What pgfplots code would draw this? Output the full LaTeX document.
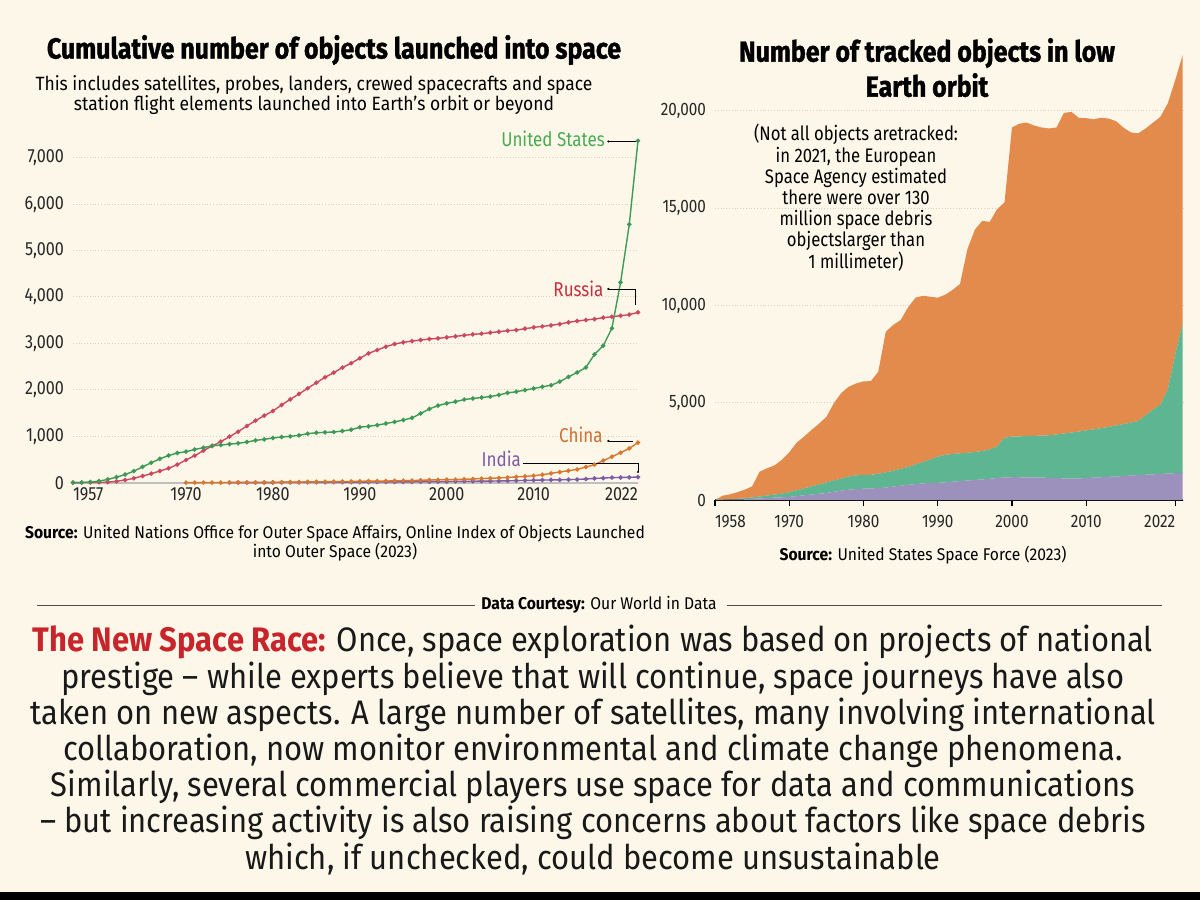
\documentclass[border=0pt]{standalone}
\usepackage{fontspec}
\setmainfont{Fira Sans}[FakeStretch=0.85]
\newfontfamily\titlefont{Fira Sans}[FakeStretch=0.86, BoldFeatures={FakeBold=1.2}]
\newfontfamily\condfont{Fira Sans}[FakeStretch=0.92]
\newfontfamily\parafont{Fira Sans}[FakeStretch=0.91]
\usepackage{pgfplots}
\pgfplotsset{compat=1.18}
\definecolor{bg}{HTML}{FCF7E9}
\definecolor{usgreen}{HTML}{3E9B57}
\definecolor{usdark}{HTML}{2D7A45}
\definecolor{uslab}{HTML}{4BAA55}
\definecolor{rured}{HTML}{CC4A60}
\definecolor{rudark}{HTML}{A83348}
\definecolor{rulab}{HTML}{C43040}
\definecolor{cnorange}{HTML}{D8782F}
\definecolor{cnlab}{HTML}{D06F30}
\definecolor{inpurple}{HTML}{7D5BA6}
\definecolor{debris}{HTML}{E28B4C}
\definecolor{payload}{HTML}{5DB592}
\definecolor{rocket}{HTML}{9C90BD}
\definecolor{gridc}{HTML}{D5D0C2}
\definecolor{racered}{HTML}{C8242B}
\definecolor{labwhite}{HTML}{FDF6E8}
\begin{document}
\begin{tikzpicture}
\fill[bg] (0,0) rectangle (600pt,-450pt);
\fill[black] (0,-446pt) rectangle (600pt,-450pt);

% ---------------- left chart ----------------
\begin{axis}[
  at={(36.5pt,-241.35pt)}, anchor=south west,
  scale only axis, width=282.5pt, height=174.1pt,
  xmin=1957, xmax=2022, ymin=0, ymax=7500,
  clip=false,
  axis line style={draw=none},
  tick style={draw=none},
  ytick={0,1000,...,7000},
  ymajorgrids, grid style={densely dotted, gridc, line width=0.5pt},
  xtick={1957,1970,1980,1990,2000,2010,2022},
  xticklabels={\makebox[0pt][l]{1957},1970,1980,1990,2000,2010,\makebox[0pt][r]{2022}},
  yticklabel style={/pgf/number format/1000 sep={,}, /pgf/number format/assume math mode=true, xshift=-1pt},
  tick label style={font=\fontsize{9.5}{10}\selectfont, text=black!85},
  xticklabel style={yshift=1pt},
]
\draw[black!25, line width=0.8pt] (axis cs:1957,0) -- (axis cs:2022,0);
\addplot[inpurple, line width=0.7pt, mark=*, mark size=0.75pt] coordinates {
(1975,1)(1976,1)(1977,1)(1978,1)(1979,2)(1980,3)(1981,6)(1982,7)(1983,9)(1984,9)(1985,9)(1986,9)(1987,10)(1988,12)(1989,12)(1990,13)(1991,14)(1992,15)(1993,16)(1994,17)(1995,18)(1996,19)(1997,21)(1998,22)(1999,24)(2000,25)(2001,27)(2002,29)(2003,32)(2004,33)(2005,35)(2006,37)(2007,40)(2008,45)(2009,49)(2010,53)(2011,57)(2012,60)(2013,63)(2014,66)(2015,71)(2016,80)(2017,92)(2018,100)(2019,110)(2020,113)(2021,116)(2022,122)};
\addplot[cnorange, line width=0.7pt, mark=*, mark size=0.75pt] coordinates {
(1970,1)(1971,2)(1972,2)(1973,2)(1974,2)(1975,5)(1976,8)(1977,8)(1978,9)(1979,9)(1980,9)(1981,12)(1982,13)(1983,14)(1984,17)(1985,19)(1986,21)(1987,23)(1988,27)(1989,27)(1990,32)(1991,33)(1992,35)(1993,36)(1994,41)(1995,43)(1996,46)(1997,52)(1998,58)(1999,62)(2000,66)(2001,68)(2002,74)(2003,80)(2004,90)(2005,95)(2006,103)(2007,113)(2008,125)(2009,135)(2010,151)(2011,172)(2012,201)(2013,230)(2014,258)(2015,287)(2016,337)(2017,388)(2018,474)(2019,560)(2020,646)(2021,740)(2022,862)};
\addplot[rured, line width=0.7pt, mark=*, mark size=0.75pt, mark options={fill=rudark, draw=none}] coordinates {
(1957,2)(1958,3)(1959,5)(1960,8)(1961,12)(1962,30)(1963,58)(1964,94)(1965,144)(1966,194)(1967,252)(1968,310)(1969,390)(1970,489)(1971,582)(1972,690)(1973,790)(1974,884)(1975,991)(1976,1099)(1977,1221)(1978,1336)(1979,1444)(1980,1545)(1981,1674)(1982,1796)(1983,1911)(1984,2033)(1985,2155)(1986,2270)(1987,2370)(1988,2480)(1989,2575)(1990,2680)(1991,2786)(1992,2858)(1993,2929)(1994,2987)(1995,3023)(1996,3051)(1997,3073)(1998,3094)(1999,3109)(2000,3130)(2001,3152)(2002,3174)(2003,3195)(2004,3209)(2005,3231)(2006,3253)(2007,3274)(2008,3288)(2009,3317)(2010,3346)(2011,3367)(2012,3389)(2013,3418)(2014,3454)(2015,3482)(2016,3504)(2017,3525)(2018,3554)(2019,3576)(2020,3597)(2021,3619)(2022,3669)};
\addplot[usgreen, line width=0.7pt, mark=*, mark size=0.75pt, mark options={fill=usdark, draw=none}] coordinates {
(1957,0)(1958,5)(1959,15)(1960,35)(1961,70)(1962,120)(1963,175)(1964,250)(1965,340)(1966,430)(1967,515)(1968,585)(1969,640)(1970,668)(1971,715)(1972,755)(1973,795)(1974,812)(1975,830)(1976,848)(1977,876)(1978,912)(1979,934)(1980,963)(1981,984)(1982,998)(1983,1020)(1984,1056)(1985,1077)(1986,1085)(1987,1092)(1988,1113)(1989,1142)(1990,1195)(1991,1215)(1992,1240)(1993,1275)(1994,1310)(1995,1350)(1996,1395)(1997,1490)(1998,1590)(1999,1660)(2000,1710)(2001,1745)(2002,1790)(2003,1815)(2004,1835)(2005,1855)(2006,1890)(2007,1935)(2008,1960)(2009,1995)(2010,2030)(2011,2065)(2012,2100)(2013,2175)(2014,2280)(2015,2375)(2016,2480)(2017,2765)(2018,2950)(2019,3325)(2020,4315)(2021,5565)(2022,7365)};
% labels
\node[anchor=east, text=uslab, font=\fontsize{10}{12}\selectfont, inner sep=1pt] at (axis cs:2018.45,7402) {United States};
\fill[black] (axis cs:2018.6,7350) circle (0.6pt);
\draw[black, line width=0.45pt] (axis cs:2018.6,7350) -- (axis cs:2021.8,7350);
\node[anchor=east, text=rulab, font=\fontsize{10}{12}\selectfont, inner sep=1pt] at (axis cs:2018.3,4172) {Russia};
\fill[black] (axis cs:2018.6,4172) circle (0.6pt);
\draw[black, line width=0.45pt] (axis cs:2018.6,4172) -- (axis cs:2021.7,4172) -- (axis cs:2021.7,3827);
\node[anchor=east, text=cnlab, font=\fontsize{10}{12}\selectfont, inner sep=1pt] at (axis cs:2018.2,1027) {China};
\fill[black] (axis cs:2018.6,898) circle (0.6pt);
\draw[black, line width=0.45pt] (axis cs:2018.6,898) -- (axis cs:2021.4,898);
\node[anchor=east, text=inpurple, font=\fontsize{10}{12}\selectfont, inner sep=1pt] at (axis cs:2008.8,510) {India};
\draw[black, line width=0.45pt] (axis cs:2008.8,424) -- (axis cs:2022,424) -- (axis cs:2022,231);
\fill[black] (axis cs:2022,231) circle (0.6pt);
\end{axis}

% ---------------- right chart ----------------
\begin{axis}[
  at={(357.5pt,-250pt)}, anchor=south west,
  scale only axis, width=233.85pt, height=223.7pt,
  xmin=1960, xmax=2023, ymin=0, ymax=23000,
  stack plots=y,
  axis x line=bottom, axis y line=left,
  axis line style={-},
  y axis line style={draw=none},
  ytick style={draw=none},
  xtick style={black, line width=0.6pt},
  x axis line style={black, line width=0.7pt},
  tick align=outside, major tick length=3pt,
  ytick={0,5000,10000,15000,20000},
  scaled y ticks=false,
  ymajorgrids, grid style={densely dotted, gridc, line width=0.5pt},
  xtick={1970,1980,1990,2000,2010,2022},
  xticklabels={1970,1980,1990,2000,2010,\makebox[0pt][r]{2022}},
  extra x ticks={1960}, extra x tick labels={\makebox[0pt][l]{1958}},
  extra x tick style={grid=none},
  yticklabel style={/pgf/number format/1000 sep={,}, /pgf/number format/assume math mode=true, xshift=2pt},
  tick label style={font=\fontsize{9}{10}\selectfont, text=black!85},
  xticklabel style={yshift=-1pt},
]
\addplot[fill=rocket, draw=none] coordinates {
(1960,0)(1961,5)(1962,15)(1963,25)(1964,40)(1965,60)(1966,80)(1967,100)(1968,120)(1969,140)(1970,160)(1971,200)(1972,240)(1973,280)(1974,320)(1975,360)(1976,420)(1977,480)(1978,530)(1979,560)(1980,580)(1981,600)(1982,610)(1983,640)(1984,690)(1985,740)(1986,780)(1987,820)(1988,850)(1989,880)(1990,880)(1991,910)(1992,940)(1993,970)(1994,1000)(1995,1030)(1996,1060)(1997,1090)(1998,1130)(1999,1160)(2000,1170)(2001,1170)(2002,1165)(2003,1160)(2004,1150)(2005,1140)(2006,1130)(2007,1110)(2008,1100)(2009,1110)(2010,1130)(2011,1150)(2012,1170)(2013,1190)(2014,1210)(2015,1230)(2016,1260)(2017,1280)(2018,1300)(2019,1320)(2020,1340)(2021,1360)(2022,1380)(2023,1400)} \closedcycle;
\addplot[fill=payload, draw=none] coordinates {
(1960,0)(1961,5)(1962,15)(1963,35)(1964,50)(1965,70)(1966,100)(1967,130)(1968,160)(1969,190)(1970,240)(1971,300)(1972,360)(1973,420)(1974,480)(1975,540)(1976,580)(1977,620)(1978,670)(1979,710)(1980,710)(1981,690)(1982,740)(1983,780)(1984,810)(1985,860)(1986,920)(1987,1000)(1988,1100)(1989,1200)(1990,1350)(1991,1410)(1992,1430)(1993,1430)(1994,1430)(1995,1440)(1996,1460)(1997,1510)(1998,1620)(1999,2040)(2000,2090)(2001,2100)(2002,2125)(2003,2140)(2004,2160)(2005,2190)(2006,2240)(2007,2310)(2008,2370)(2009,2410)(2010,2450)(2011,2480)(2012,2520)(2013,2570)(2014,2620)(2015,2670)(2016,2720)(2017,2780)(2018,3050)(2019,3330)(2020,3560)(2021,4340)(2022,6120)(2023,7700)} \closedcycle;
\addplot[fill=debris, draw=none] coordinates {
(1960,0)(1961,210)(1962,260)(1963,340)(1964,440)(1965,570)(1966,1270)(1967,1400)(1968,1500)(1969,1730)(1970,2050)(1971,2450)(1972,2660)(1973,2900)(1974,3120)(1975,3370)(1976,3970)(1977,4400)(1978,4620)(1979,4720)(1980,4810)(1981,4820)(1982,5250)(1983,7230)(1984,7500)(1985,7650)(1986,8200)(1987,8580)(1988,8550)(1989,8370)(1990,8170)(1991,8230)(1992,8430)(1993,8700)(1994,10470)(1995,11430)(1996,11830)(1997,11700)(1998,12200)(1999,12100)(2000,15890)(2001,16080)(2002,16110)(2003,15950)(2004,15840)(2005,15770)(2006,15780)(2007,16480)(2008,16480)(2009,16130)(2010,16050)(2011,15940)(2012,15960)(2013,15850)(2014,15650)(2015,15250)(2016,14920)(2017,14790)(2018,14750)(2019,14750)(2020,14800)(2021,14700)(2022,14100)(2023,13780)} \closedcycle;
\node[anchor=east, text=labwhite, font=\bfseries\fontsize{9.5}{10}\selectfont, inner sep=0pt] at (axis cs:2021.5,10900) {Debris};
\node[anchor=east, text=labwhite, font=\bfseries\fontsize{9.5}{10}\selectfont, inner sep=0pt] at (axis cs:2021.3,2620) {Payloads};
\node[anchor=east, text=labwhite, font=\titlefont\bfseries\fontsize{8.5}{10}\selectfont, inner sep=0pt] at (axis cs:2021.7,617) {Rocket bodies};
\end{axis}

% ---------------- texts ----------------
\node[font=\titlefont\bfseries\fontsize{14.5}{16}\selectfont, inner sep=0pt] at (167pt,-25pt) {Cumulative number of objects launched into space};
\node[align=center, font=\parafont\fontsize{9.6}{9.7}\selectfont, inner sep=0pt] at (157pt,-47.5pt) {This includes satellites, probes, landers, crewed spacecrafts and space\\station flight elements launched into Earth’s orbit or beyond};
\node[align=center, font=\titlefont\bfseries\fontsize{14.5}{17.5}\selectfont, inner sep=0pt] at (463.5pt,-33.8pt) {Number of tracked objects in low\\Earth orbit};
\node[align=center, anchor=north, font=\fontsize{9.8}{10.6}\selectfont, inner sep=0pt] at (428pt,-62pt) {(Not all objects aretracked:\\in 2021, the European\\Space Agency estimated\\there were over 130\\million space debris\\objectslarger than\\1 millimeter)};
\node[align=center, font=\condfont\fontsize{8.5}{9.6}\selectfont, inner sep=0pt] at (167.5pt,-271.5pt) {\textbf{Source:} United Nations Office for Outer Space Affairs, Online Index of Objects Launched\\into Outer Space (2023)};
\node[font=\condfont\fontsize{8.5}{9.6}\selectfont, inner sep=0pt] at (461.5pt,-277.5pt) {\textbf{Source:} United States Space Force (2023)};
\node[font=\condfont\fontsize{8.5}{9.6}\selectfont, inner sep=0pt] at (299.5pt,-302.5pt) {\textbf{Data Courtesy:} Our World in Data};
\draw[black!70, line width=0.5pt] (18.5pt,-302.5pt) -- (237.5pt,-302.5pt);
\draw[black!70, line width=0.5pt] (363.5pt,-302.5pt) -- (581pt,-302.5pt);
\node[align=center, anchor=north, font=\parafont\fontsize{17}{18.1}\selectfont, inner sep=0pt, text=black!90] at (296.5pt,-312.5pt) {\textcolor{racered}{\textbf{The New Space Race:}} Once, space exploration was based on projects of national\\prestige – while experts believe that will continue, space journeys have also\\taken on new aspects. A large number of satellites, many involving international\\collaboration, now monitor environmental and climate change phenomena.\\Similarly, several commercial players use space for data and communications\\– but increasing activity is also raising concerns about factors like space debris\\which, if unchecked, could become unsustainable};
\pgfresetboundingbox
\path (0,0) rectangle (600pt,-450pt);
\end{tikzpicture}
\end{document}
